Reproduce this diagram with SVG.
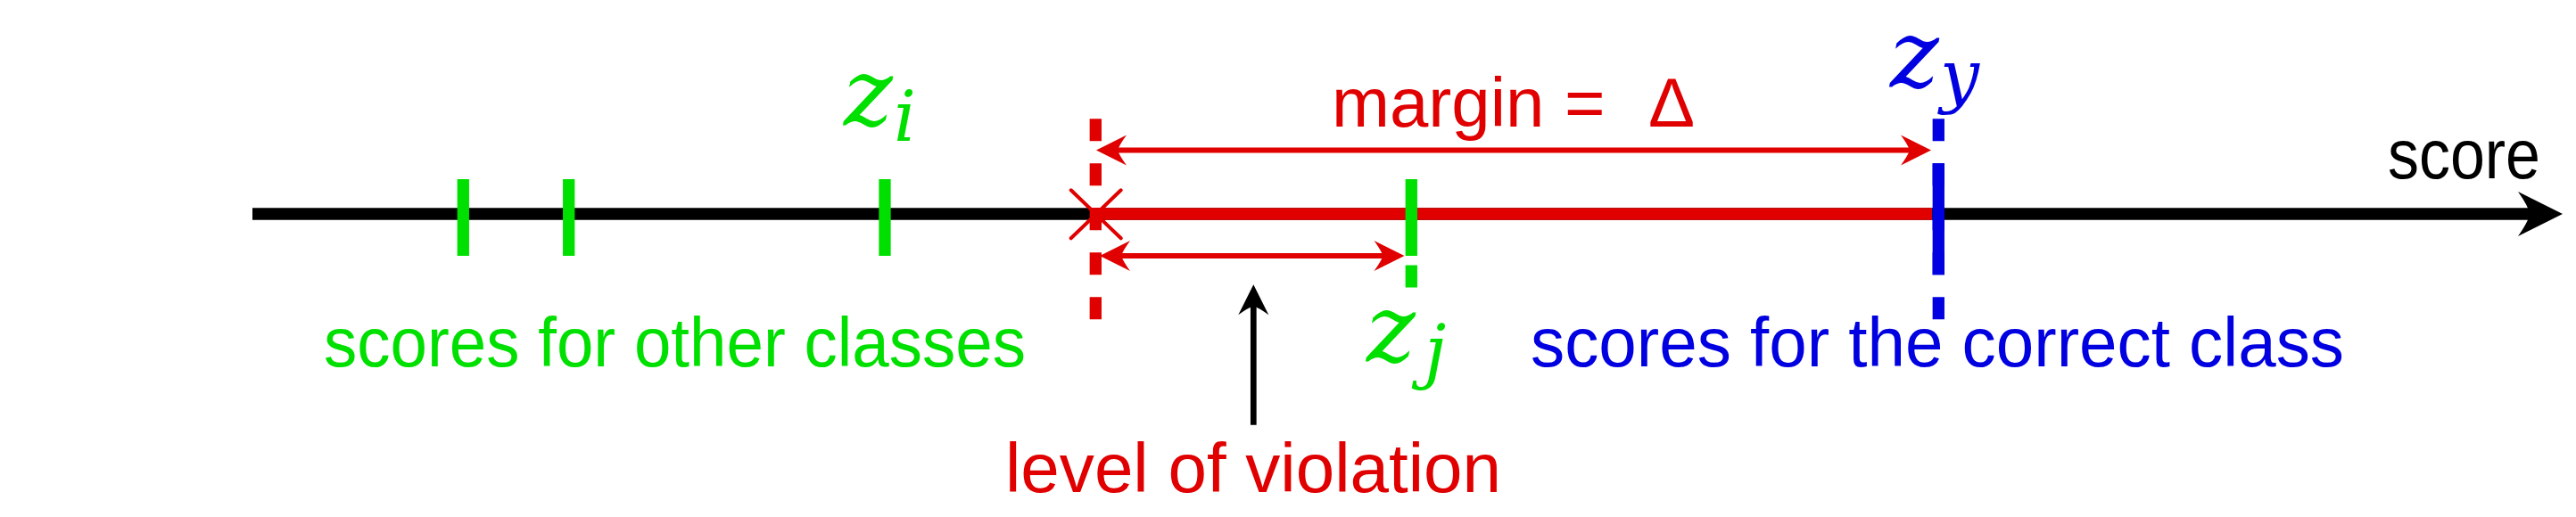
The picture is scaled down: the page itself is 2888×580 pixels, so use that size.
<svg xmlns="http://www.w3.org/2000/svg" width="2888" height="580" viewBox="0 0 2888 580">
  <style>
    .lbl { font-family: "Liberation Sans", Arial, sans-serif; font-size: 78px; }
    .math { font-family: "DejaVu Serif", "Liberation Serif", serif; font-style: italic; }
    .zbig { font-size: 104px; }
    .zsub { font-size: 78px; }
    .green { fill: #00e000; }
    .red { fill: #e00000; }
    .blue { fill: #0000e0; }
    .blk { fill: #000000; }
    .tick-g { stroke: #00e000; stroke-width: 13.3; fill: none; }
    .dash-r { stroke: #e00000; stroke-width: 13.3; stroke-dasharray: 25 25; fill: none; }
    .dash-b { stroke: #0000e0; stroke-width: 13.3; stroke-dasharray: 25 25; fill: none; }
    .tick-b { stroke: #0000e0; stroke-width: 13.3; fill: none; }
    .arr-r { stroke: #e00000; stroke-width: 6; fill: none; marker-start: url(#headR); marker-end: url(#headR); }
    .arr-k { stroke: #000000; stroke-width: 6.7; fill: none; marker-end: url(#headK); }
  </style>
  <defs>
    <marker id="headR" markerUnits="userSpaceOnUse" viewBox="-20 -20 45 40" markerWidth="45" markerHeight="40" refX="0" refY="0" orient="auto-start-reverse" overflow="visible">
      <path d="M20,0 L-14,-17 Q-6,-6 -4,0 Q-6,6 -14,17 Z" fill="#e00000"/>
    </marker>
    <marker id="headK" markerUnits="userSpaceOnUse" viewBox="-20 -20 45 40" markerWidth="45" markerHeight="40" refX="0" refY="0" orient="auto" overflow="visible">
      <path d="M20,0 L-14,-17 Q-6,-6 -4,0 Q-6,6 -14,17 Z" fill="#000000"/>
    </marker>
    <marker id="headAxis" markerUnits="userSpaceOnUse" viewBox="-35 -30 60 60" markerWidth="60" markerHeight="60" refX="0" refY="0" orient="auto" overflow="visible">
      <path d="M20,0 L-30,-25 Q-18,-8 -17,0 Q-18,8 -30,25 Z" fill="#000000"/>
    </marker>
  </defs>

  <g id="axis">
    <line x1="283" y1="240" x2="2853" y2="240" stroke="#000000" stroke-width="13.3" marker-end="url(#headAxis)"/>
    <line x1="1222" y1="240" x2="2166" y2="240" stroke="#e00000" stroke-width="13.3"/>
    <text class="lbl blk" x="2677" y="200" textLength="171" lengthAdjust="spacingAndGlyphs">score</text>
  </g>

  <g id="other-classes">
    <line class="tick-g" x1="519.3" y1="201" x2="519.3" y2="287"/>
    <line class="tick-g" x1="637.7" y1="201" x2="637.7" y2="287"/>
    <text class="lbl green" x="363" y="411" textLength="787" lengthAdjust="spacingAndGlyphs">scores for other classes</text>
  </g>

  <g id="zi">
    <line class="tick-g" x1="992" y1="201" x2="992" y2="287"/>
    <text class="math green" x="946" y="140"><tspan class="zbig">z</tspan><tspan class="zsub" x="1002" y="158">i</tspan></text>
  </g>

  <g id="zj">
    <line class="tick-g" x1="1582.3" y1="201" x2="1582.3" y2="287"/>
    <line class="tick-g" x1="1582.3" y1="297.5" x2="1582.3" y2="322.5"/>
    <text class="math green" x="1532" y="405"><tspan class="zbig">z</tspan><tspan class="zsub" x="1597" y="421">j</tspan></text>
  </g>

  <g id="zy">
    <line class="dash-b" x1="2173.3" y1="133.3" x2="2173.3" y2="358.3"/>
    <line class="tick-b" x1="2173.3" y1="183.3" x2="2173.3" y2="308.3"/>
    <text class="math blue" x="2119" y="97"><tspan class="zbig">z</tspan><tspan class="zsub" x="2175" y="112">y</tspan></text>
    <text class="lbl blue" x="1716" y="411" textLength="912" lengthAdjust="spacingAndGlyphs">scores for the correct class</text>
  </g>

  <g id="margin-start">
    <line class="dash-r" x1="1228.3" y1="133.3" x2="1228.3" y2="358.3"/>
    <line x1="1200.7" y1="213.3" x2="1256.7" y2="267.3" stroke="#e00000" stroke-width="4" stroke-linecap="round"/>
    <line x1="1256.7" y1="213.3" x2="1200.7" y2="267.3" stroke="#e00000" stroke-width="4" stroke-linecap="round"/>
  </g>

  <g id="connectors">
    <line class="arr-r" x1="1249" y1="168.5" x2="2145" y2="168.5"/>
    <line class="arr-r" x1="1253" y1="287" x2="1554.5" y2="287"/>
    <line class="arr-k" x1="1405.3" y1="476.7" x2="1405.3" y2="339.3"/>
  </g>

  <g id="margin-label">
    <text class="lbl red" y="141.7"><tspan x="1493">margin</tspan><tspan x="1754">=</tspan><tspan x="1848">Δ</tspan></text>
  </g>

  <g id="violation-label">
    <text class="lbl red" x="1127" y="552" textLength="556" lengthAdjust="spacingAndGlyphs">level of violation</text>
  </g>
</svg>
